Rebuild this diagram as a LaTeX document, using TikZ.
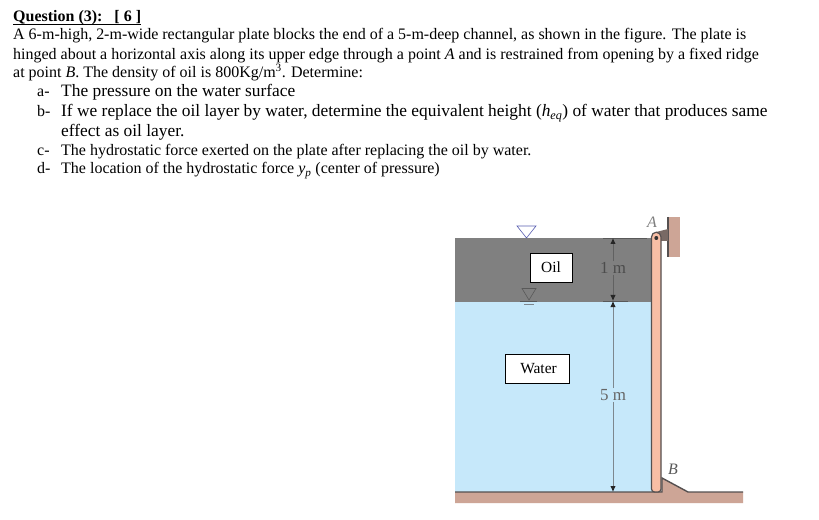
\documentclass[tikz,border=0pt]{standalone}
\usepackage{fontspec}
\setmainfont{Liberation Serif}
\usetikzlibrary{arrows.meta}
\definecolor{oilgray}{RGB}{128,128,128}
\definecolor{waterblue}{RGB}{198,232,250}
\definecolor{platepink}{RGB}{248,190,165}
\definecolor{groundtan}{RGB}{205,165,150}
\definecolor{edgegray}{RGB}{85,80,80}
\definecolor{dimgray}{RGB}{125,135,142}
\tikzset{
    txt/.style={anchor=base west,inner sep=0pt,font=\fontsize{16.05}{18}\selectfont},
    bigtxt/.style={txt,font=\fontsize{17.45}{18}\selectfont},
    labelbox/.style={draw=black,line width=0.7bp,fill=white,minimum height=29bp,inner sep=0pt,font=\fontsize{15.5}{18}\selectfont},
    dimtxt/.style={inner sep=1pt,font=\fontsize{17}{18}\selectfont},
    dimline/.style={draw=dimgray,line width=0.9bp},
    dimarrow/.style={dimline,-{Latex[length=6bp,width=5.5bp,black!85]}},
}
\begin{document}
\begin{tikzpicture}[x=1bp,y=-1bp]
    \useasboundingbox (0,0) rectangle (819,520);
    \fill[white] (0,0) rectangle (819,520);
    % question text
    \node[txt,font=\fontsize{16.05}{18}\selectfont\bfseries] (title) at (13,22) {Question (3):\ \ \ [ 6 ]};
    \draw[black,line width=0.8bp] ([yshift=-2.2bp]title.base west) -- ([yshift=-2.2bp]title.base east);
    \node[txt] (l1) at (13,40) {A 6-m-high, 2-m-wide rectangular plate blocks the end of a 5-m-deep channel, as shown in the figure. The plate is};
    \node[txt] (l2) at (13,59.5) {hinged about a horizontal axis along its upper edge through a point \textit{A} and is restrained from opening by a fixed ridge};
    \node[txt] (l3) at (13,77.5) {at point \textit{B}. The density of oil is 800Kg/m\textsuperscript{3}. Determine:};
    \node[txt] (ma) at (37,97) {a-};
    \node[bigtxt] (qa) at (61,97) {The pressure on the water surface};
    \node[txt] (mb) at (37,117) {b-};
    \node[bigtxt] (qb) at (61,117) {If we replace the oil layer by water, determine the equivalent height (\textit{h\textsubscript{eq}}) of water that produces same};
    \node[bigtxt] (qb2) at (61,137) {effect as oil layer.};
    \node[txt] (mc) at (37,155.5) {c-};
    \node[txt] (qc) at (61,155.5) {The hydrostatic force exerted on the plate after replacing the oil by water.};
    \node[txt] (md) at (37,174) {d-};
    \node[txt] (qd) at (61,174) {The location of the hydrostatic force \textit{y\textsubscript{p}} (center of pressure)};
    % liquids
    \fill[oilgray] (455,238) rectangle (652,301.5);
    \fill[waterblue] (455,301.5) rectangle (652,492);
    % floor and ridge
    \fill[groundtan] (455,492) -- (662,492) -- (662,478) -- (688,492) -- (743,492) -- (743,503) -- (455,503) -- cycle;
    \draw[edgegray,line width=1.4bp] (455,492) -- (662,492) -- (662,478) -- (688,492) -- (743,492);
    % wall and hinge
    \fill[groundtan] (668,217) rectangle (680,257);
    \draw[edgegray,line width=1.3bp] (668,217) -- (668,257);
    \fill[edgegray!70!groundtan] (656,232) -- (668,229) -- (668,241) -- (660,241) -- cycle;
    % plate
    \draw[edgegray,line width=1.2bp,fill=platepink] (651.5,237) arc (180:360:4.75) -- (661,489) arc (0:90:3) -- (654.5,492) arc (90:180:3) -- cycle;
    \fill[black!80] (656.3,238) circle (2);
    % surface marks
    \draw[draw=dimgray!70!blue,line width=0.6bp,fill=white] (517,226) -- (536,226) -- (526.5,238) -- cycle;
    \draw[draw=black!65,line width=0.6bp] (522,288.5) -- (536,288.5) -- (529,300) -- cycle;
    \draw[black!65,line width=0.6bp] (520,301.5) -- (537,301.5);
    \draw[dimgray,line width=0.6bp] (524,304) -- (534,304);
    % dimensions
    \coordinate (t1) at (613,238);
    \coordinate (t2) at (613,301);
    \coordinate (t3) at (613,492);
    \draw[black!65,line width=0.7bp] (603,238) -- (647,238) (603,301) -- (628,301);
    \node[dimtxt,text=black!70,fill=oilgray] (d1) at (613,268) {1 m};
    \node[dimtxt,text=black!60,fill=waterblue] (d5) at (613,395) {5 m};
    \draw[dimarrow,draw=black!62] (d1) -- (t1);
    \draw[dimarrow,draw=black!62] (d1) -- (t2);
    \draw[dimarrow] (d5) -- (t2);
    \draw[dimarrow] (d5) -- (t3);
    % labels
    \node[labelbox,minimum width=42bp] (oil) at (551,267.5) {Oil};
    \node[labelbox,minimum width=64bp] (water) at (537,368.5) {\hspace{3bp}Water};
    \node[text=black!50,inner sep=0pt,font=\fontsize{16}{18}\selectfont\itshape] (A) at (652,222) {A};
    \node[text=black!65,inner sep=0pt,font=\fontsize{16}{18}\selectfont\itshape] (B) at (673,469) {B};
\end{tikzpicture}
\end{document}
